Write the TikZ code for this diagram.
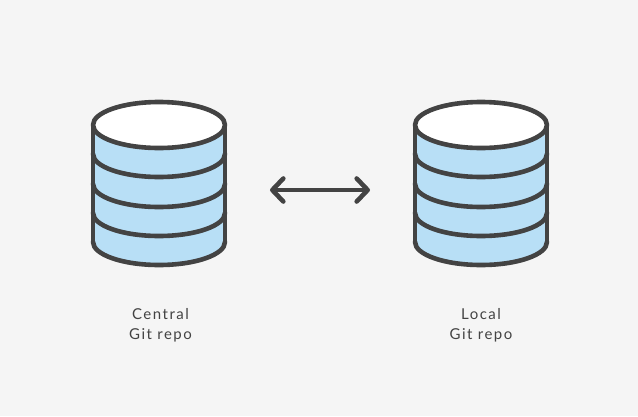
\documentclass[tikz,border=0pt]{standalone}
\usepackage{fontspec}
\setmainfont[LetterSpace=10]{Lato}
\usetikzlibrary{arrows.meta}
\definecolor{bgcol}{HTML}{F5F5F5}
\definecolor{bandcol}{HTML}{B8DFF6}
\definecolor{linecol}{HTML}{434343}
\tikzset{
	repoline/.style={draw=linecol,line width=4.6pt,line join=round,line cap=round},
	repolabel/.style={align=center,text=linecol,font=\fontsize{15}{20}\selectfont,inner sep=0pt},
}
\begin{document}
\begin{tikzpicture}[x=1pt,y=-1pt]
	\fill[bgcol] (0,0) rectangle (638,416);
	\useasboundingbox (0,0) rectangle (638,416);
	\foreach \x in {159,481}{
		\fill[bandcol] (\x-66,125) -- (\x-66,242) arc[start angle=180,end angle=360,x radius=66pt,y radius=23pt] -- (\x+66,125) -- cycle;
		\foreach \y in {154,184,213,242}{
			\draw[repoline] (\x-66,\y) arc[start angle=180,end angle=360,x radius=66pt,y radius=23pt];
		}
		\draw[repoline] (\x-66,125) -- (\x-66,242);
		\draw[repoline] (\x+66,125) -- (\x+66,242);
		\draw[repoline,fill=white] (\x,125) ellipse[x radius=66pt,y radius=23pt];
	}
	\node[repolabel] (central) at (160.5,325) {Central\\Git repo};
	\node[repolabel] (local) at (481,325) {Local\\Git repo};
	\coordinate (arrowleft) at (270,190);
	\coordinate (arrowright) at (370,190);
	\draw[repoline,{Straight Barb[length=11pt,width=23pt,round]}-{Straight Barb[length=11pt,width=23pt,round]}] (arrowleft) -- (arrowright);
\end{tikzpicture}
\end{document}
